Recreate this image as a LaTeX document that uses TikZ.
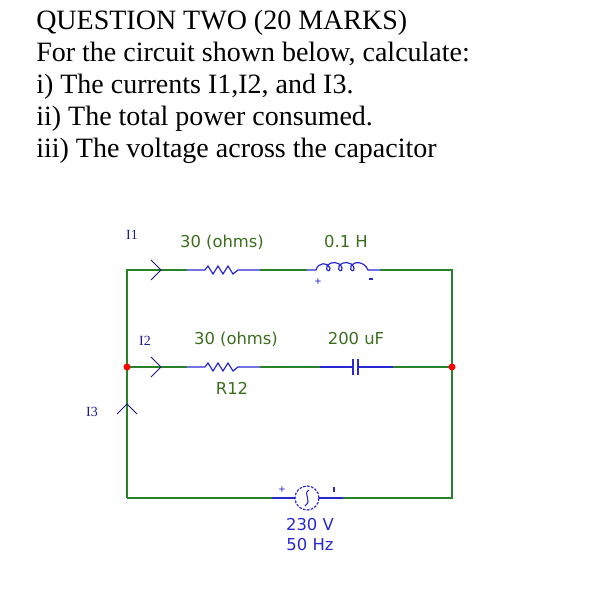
\documentclass[tikz,border=0pt]{standalone}
\usepackage{fontspec}
\setmainfont{Liberation Serif}
\newfontfamily\lblfont{DejaVu Sans}
\begin{document}
\begin{tikzpicture}[x=0.75pt,y=-0.75pt,
  wire/.style={draw=wgreen,line width=0.9pt},
  comp/.style={draw=cblue,line width=0.9pt},
  lbl/.style={text=lgreen,font=\lblfont\fontsize{12.3}{14}\selectfont,inner sep=0},
  srclbl/.style={text=cblue,font=\lblfont\fontsize{12.3}{14}\selectfont,inner sep=0,align=center},
  cur/.style={text=cblue!70!black,font=\fontsize{10.5}{12}\selectfont,inner sep=0},
  chev/.style={draw=cblue!60!black,line width=0.6pt},
  title/.style={anchor=base west,inner sep=0,font=\fontsize{21}{24}\selectfont}]
\definecolor{wgreen}{RGB}{40,130,40}
\definecolor{cblue}{RGB}{40,40,210}
\definecolor{lgreen}{RGB}{60,110,30}
\useasboundingbox (0,0) rectangle (615,595);
% title text
\node[title] (t1) at (36,30) {QUESTION TWO (20 MARKS)};
\node[title] (t2) at (36,62) {For the circuit shown below, calculate:};
\node[title] (t3) at (36,94) {i) The currents I1,I2, and I3.};
\node[title] (t4) at (36,126) {ii) The total power consumed.};
\node[title] (t5) at (36,158) {iii) The voltage across the capacitor};
% coordinates
\coordinate (TL) at (127,270); \coordinate (TR) at (452,270);
\coordinate (ML) at (127,367); \coordinate (MR) at (452,367);
\coordinate (BL) at (127,498); \coordinate (BR) at (452,498);
% wires
\draw[wire] (BL) -- (TL) -- (187,270);
\draw[wire] (260,270) -- (307,270);
\draw[wire] (380,270) -- (TR) -- (BR) -- (343,498);
\draw[wire] (ML) -- (187,367);
\draw[wire] (260,367) -- (320,367);
\draw[wire] (393,367) -- (MR);
\draw[wire] (BL) -- (272,498);
% top resistor
\draw[comp] (187,270) -- (205,270) -- (208,266) -- (213,274) -- (218,266) -- (223,274) -- (228,266) -- (233,274) -- (238,270) -- (260,270);
% middle resistor
\draw[comp] (187,367) -- (205,367) -- (208,363) -- (213,371) -- (218,363) -- (223,371) -- (228,363) -- (233,371) -- (238,367) -- (260,367);
% inductor
\draw[comp] (307,270) -- (316,270) .. controls (318,262) and (328,262) .. (330,268)
  .. controls (331,272) and (325,272) .. (327,266) .. controls (330,261) and (340,261) .. (342,268)
  .. controls (343,272) and (337,272) .. (339,266) .. controls (342,261) and (352,261) .. (354,268)
  .. controls (355,272) and (349,272) .. (351,266) .. controls (354,261) and (364,261) .. (368,270) -- (380,270);
\node[text=cblue,font=\bfseries\fontsize{9}{9}\selectfont,inner sep=0] (lp) at (318,282) {+};
\draw[comp,line width=0.8pt] (369,279) -- (373,279);
% capacitor
\draw[comp] (320,367) -- (353,367);
\draw[comp] (358,367) -- (393,367);
\draw[comp] (353,359) -- (353,375);
\draw[comp] (358,359) -- (358,375);
% source
\draw[comp] (272,498) -- (295,498);
\draw[comp] (319,498) -- (343,498);
\node[comp,dash pattern=on 2pt off 1pt,circle,minimum size=18pt,inner sep=0] (src) at (307,498) {};
\draw[comp,line width=0.8pt] (309,490) .. controls (302,494) and (313,500) .. (305,506);
\node[text=cblue,font=\bfseries\fontsize{9}{9}\selectfont,inner sep=0] (sp) at (282,490) {+};
\draw[comp,line width=0.8pt] (334,487) -- (334,492);
\node[srclbl,anchor=north] (sv) at (310,518) {230 V\\[1pt]50 Hz};
% nodes
\fill[red] (ML) circle (3.5);
\fill[red] (MR) circle (3.5);
% labels
\node[lbl] (r1) at (222,242) {30 (ohms)};
\node[lbl] (l1) at (346,242) {0.1 H};
\node[lbl] (r2) at (236,339) {30 (ohms)};
\node[lbl] (c1) at (356,339) {200 uF};
\node[lbl] (r12) at (232,388) {R12};
% current arrows
\node[cur] (i1) at (132,235) {I1};
\node[cur] (i2) at (145,341) {I2};
\node[cur] (i3) at (92,412) {I3};
\draw[chev] (151,260) -- (161,270) -- (151,280);
\draw[chev] (151,357) -- (161,367) -- (151,377);
\draw[chev] (117,414) -- (127,404) -- (137,414);
\end{tikzpicture}
\end{document}
